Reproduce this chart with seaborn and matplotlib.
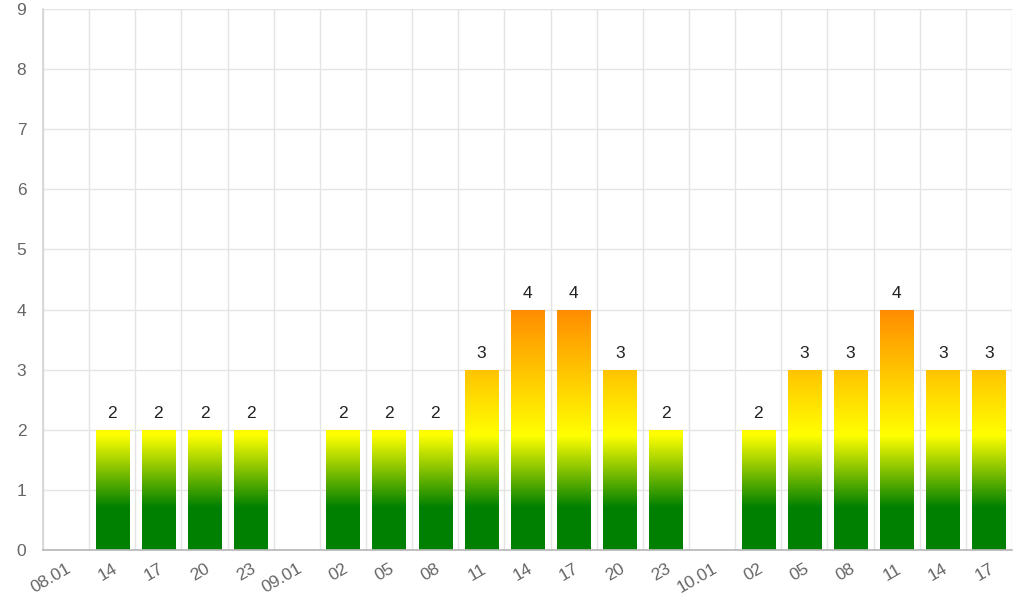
import numpy as np
import pandas as pd
import matplotlib
matplotlib.use("Agg")
import matplotlib.pyplot as plt
import seaborn as sns
from matplotlib.colors import LinearSegmentedColormap

# Hourly slots across three days, count per slot
slot_labels = ["08.01", "14", "17", "20", "23",
               "09.01", "02", "05", "08", "11", "14", "17", "20", "23",
               "10.01", "02", "05", "08", "11", "14", "17"]
slot_counts = [0, 2, 2, 2, 2,
               0, 2, 2, 2, 3, 4, 4, 3, 2,
               0, 2, 3, 3, 4, 3, 3]
y_ticks = [0, 1, 2, 3, 4, 5, 6, 7, 8, 9]

# gradient defined in data units (value -> colour)
grad_values = [0.0, 0.7, 1.9, 4.0]
grad_colors = ["#008000", "#008000", "#ffff00", "#ff8c00"]

GRID = "#e4e4e4"
TXT = "#666666"
FS = 12.5

sns.set_theme(style="white")
plt.rcParams["font.family"] = ["Liberation Sans", "DejaVu Sans"]

df = pd.DataFrame({"slot": list(range(len(slot_counts))), "count": slot_counts})

fig = plt.figure(figsize=(10.24, 6.14), dpi=100)
ax = fig.add_axes([43 / 1024, 1 - 550 / 614, 969 / 1024, 541 / 614])

sns.barplot(data=df, x="slot", y="count", ax=ax, width=0.72,
            color="white", saturation=1, zorder=2)

top = grad_values[-1]
cmap = LinearSegmentedColormap.from_list(
    "lvl", [(v / top, c) for v, c in zip(grad_values, grad_colors)])
grad = np.linspace(0, 1, 512).reshape(-1, 1)

for patch, val in zip(ax.patches, slot_counts):
    if val <= 0:
        patch.set_visible(False)
        continue
    x0 = patch.get_x()
    x1 = x0 + patch.get_width()
    patch.set_facecolor("none")
    patch.set_edgecolor((1, 1, 1, 0.35))
    patch.set_linewidth(0.8)
    im = ax.imshow(grad, extent=[x0, x1, 0, top], origin="lower",
                   aspect="auto", cmap=cmap, vmin=0, vmax=1, zorder=2)
    im.set_clip_path(patch)
    ax.annotate(str(val), (x0 + patch.get_width() / 2, val),
                xytext=(0, 8.5), textcoords="offset points",
                ha="center", va="baseline", fontsize=FS, color="#222222",
                zorder=4)

ax.set_xlim(-0.5, len(slot_counts) - 0.5)
ax.set_ylim(0, 9)
ax.set_yticks(y_ticks)
ax.set_xticks(range(len(slot_labels)))
ax.set_xticklabels(slot_labels, rotation=30, ha="right", rotation_mode="anchor")
ax.set_xticks(np.arange(-0.5, len(slot_labels), 1), minor=True)
ax.set_xlabel("")
ax.set_ylabel("")

ax.tick_params(axis="x", which="major", length=0, pad=8, labelsize=FS, labelcolor=TXT)
ax.tick_params(axis="x", which="minor", length=8, width=1, color=GRID)
ax.tick_params(axis="y", length=9, width=1, color=GRID, pad=3,
               labelsize=FS, labelcolor=TXT)

ax.grid(axis="x", which="minor", color=GRID, linewidth=1, zorder=0)
ax.grid(axis="y", which="major", color=GRID, linewidth=1, zorder=0)
ax.set_axisbelow(True)

for side in ["top", "right"]:
    ax.spines[side].set_visible(False)
ax.spines["left"].set_color("#d6d6d6")
ax.spines["bottom"].set_color("#b8b8b8")

fig.savefig("out.png", dpi=100)
